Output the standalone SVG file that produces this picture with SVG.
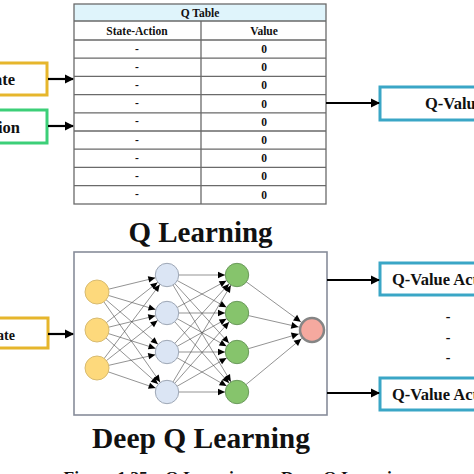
<svg xmlns="http://www.w3.org/2000/svg" width="474" height="474" viewBox="0 0 474 474">
<style>
.t{font-family:"Liberation Serif","Times New Roman",serif;font-weight:bold;fill:#111}
.cell{font-size:11.5px;text-anchor:middle}
.box{fill:#fff;stroke-width:3}
.grid{stroke:#6a6a6a;stroke-width:1.3;fill:none}
.arr{stroke:#000;stroke-width:2.2;fill:none;marker-end:url(#ah)}
.nn{stroke:#4a4a4a;stroke-width:0.6;fill:none;marker-end:url(#sh)}
.nno{stroke:#4a4a4a;stroke-width:0.6;fill:none;marker-end:url(#so)}
.yel{fill:#fdd97c;stroke:#d8bb70;stroke-width:1}
.blu{fill:#dbe5f4;stroke:#9ea7b5;stroke-width:1}
.grn{fill:#86c46c;stroke:#6b9a5c;stroke-width:1}
</style>
<defs>
<marker id="ah" markerUnits="userSpaceOnUse" markerWidth="10" markerHeight="10" refX="8" refY="0" orient="auto" overflow="visible"><path d="M0,-4.5 L9,0 L0,4.5 z" fill="#000"/></marker>
<marker id="sh" markerUnits="userSpaceOnUse" markerWidth="10" markerHeight="10" refX="19" refY="0" orient="auto" overflow="visible"><path d="M0,-3.2 L7,0 L0,3.2 z" fill="#000"/></marker>
<marker id="so" markerUnits="userSpaceOnUse" markerWidth="10" markerHeight="10" refX="21" refY="0" orient="auto" overflow="visible"><path d="M0,-3.5 L7,0 L0,3.5 z" fill="#000"/></marker>
</defs>
<rect width="474" height="474" fill="#fff"/>

<g id="qtable">
<rect x="74" y="4" width="252" height="17" fill="#dff4fb"/>
<rect x="74" y="4" width="252" height="200" class="grid"/>
<path class="grid" d="M74,21H326M74,40H326M74,58.2H326M74,76.4H326M74,94.6H326M74,112.8H326M74,131H326M74,149.2H326M74,167.4H326M74,185.6H326M201,21V204"/>
<text class="t cell" x="200" y="16.5">Q Table</text>
<text class="t cell" x="137" y="34.5">State-Action</text>
<text class="t cell" x="264" y="34.5">Value</text>
<g class="t cell" font-size="11">
<text x="137" y="52.5">-</text><text x="264" y="53">0</text>
<text x="137" y="70.7">-</text><text x="264" y="71.2">0</text>
<text x="137" y="88.9">-</text><text x="264" y="89.4">0</text>
<text x="137" y="107.1">-</text><text x="264" y="107.6">0</text>
<text x="137" y="125.3">-</text><text x="264" y="125.8">0</text>
<text x="137" y="143.5">-</text><text x="264" y="144">0</text>
<text x="137" y="161.7">-</text><text x="264" y="162.2">0</text>
<text x="137" y="179.9">-</text><text x="264" y="180.4">0</text>
<text x="137" y="198.1">-</text><text x="264" y="198.6">0</text>
</g>
</g>

<g id="state1"><rect class="box" x="-50" y="63" width="97" height="32" stroke="#e6b62c"/><text class="t" x="15" y="85" font-size="16.5" text-anchor="end">State</text></g>
<g id="action1"><rect class="box" x="-50" y="110" width="97" height="33" stroke="#3ccf78"/><text class="t" x="20" y="132.5" font-size="16.5" text-anchor="end">Action</text></g>
<g id="qvalue1"><rect class="box" x="380" y="87" width="130" height="33" stroke="#3aa6c6"/><text class="t" x="425" y="108.5" font-size="16.5">Q-Value</text></g>
<text class="t" x="200.5" y="242" font-size="29" text-anchor="middle">Q Learning</text>

<g id="state2"><rect class="box" x="-50" y="318" width="98" height="30" stroke="#e6b62c"/><text class="t" x="15" y="340" font-size="14" text-anchor="end">State</text></g>
<g id="qva1"><rect class="box" x="380" y="263" width="130" height="32" stroke="#3aa6c6"/><text class="t" x="392" y="285" font-size="16.5">Q-Value Action 1</text></g>
<g id="qvan"><rect class="box" x="380" y="378" width="130" height="32" stroke="#3aa6c6"/><text class="t" x="392" y="400" font-size="16.5">Q-Value Action N</text></g>
<g class="t" font-size="14" text-anchor="middle"><text x="448" y="321">-</text><text x="448" y="342">-</text><text x="448" y="362">-</text></g>

<g id="nnbox"><rect x="74" y="252" width="253" height="163" fill="#fff" stroke="#878d9a" stroke-width="1.6"/></g>

<g id="connectors">
<line class="arr" x1="48" y1="79" x2="73" y2="79"/>
<line class="arr" x1="48" y1="126" x2="73" y2="126"/>
<line class="arr" x1="326" y1="103" x2="379" y2="103"/>
<line class="arr" x1="48" y1="334" x2="73" y2="334"/>
<line class="arr" x1="327" y1="280" x2="379" y2="280"/>
<line class="arr" x1="327" y1="393" x2="379" y2="393"/>
<g>
<line class="nn" x1="97" y1="292" x2="167" y2="275"/><line class="nn" x1="97" y1="292" x2="167" y2="313"/><line class="nn" x1="97" y1="292" x2="167" y2="352"/><line class="nn" x1="97" y1="292" x2="167" y2="392"/>
<line class="nn" x1="97" y1="330" x2="167" y2="275"/><line class="nn" x1="97" y1="330" x2="167" y2="313"/><line class="nn" x1="97" y1="330" x2="167" y2="352"/><line class="nn" x1="97" y1="330" x2="167" y2="392"/>
<line class="nn" x1="97" y1="368" x2="167" y2="275"/><line class="nn" x1="97" y1="368" x2="167" y2="313"/><line class="nn" x1="97" y1="368" x2="167" y2="352"/><line class="nn" x1="97" y1="368" x2="167" y2="392"/>
<line class="nn" x1="167" y1="275" x2="237" y2="275"/><line class="nn" x1="167" y1="275" x2="237" y2="313"/><line class="nn" x1="167" y1="275" x2="237" y2="352"/><line class="nn" x1="167" y1="275" x2="237" y2="392"/>
<line class="nn" x1="167" y1="313" x2="237" y2="275"/><line class="nn" x1="167" y1="313" x2="237" y2="313"/><line class="nn" x1="167" y1="313" x2="237" y2="352"/><line class="nn" x1="167" y1="313" x2="237" y2="392"/>
<line class="nn" x1="167" y1="352" x2="237" y2="275"/><line class="nn" x1="167" y1="352" x2="237" y2="313"/><line class="nn" x1="167" y1="352" x2="237" y2="352"/><line class="nn" x1="167" y1="352" x2="237" y2="392"/>
<line class="nn" x1="167" y1="392" x2="237" y2="275"/><line class="nn" x1="167" y1="392" x2="237" y2="313"/><line class="nn" x1="167" y1="392" x2="237" y2="352"/><line class="nn" x1="167" y1="392" x2="237" y2="392"/>
<line class="nno" x1="237" y1="275" x2="312" y2="330"/><line class="nno" x1="237" y1="313" x2="312" y2="330"/><line class="nno" x1="237" y1="352" x2="312" y2="330"/><line class="nno" x1="237" y1="392" x2="312" y2="330"/>
</g>
</g>

<g id="input-layer">
<circle class="yel" cx="97" cy="292" r="12"/><circle class="yel" cx="97" cy="330" r="12"/><circle class="yel" cx="97" cy="368" r="12"/>
</g>
<g id="hidden-layer-1">
<circle class="blu" cx="167" cy="275" r="11.7"/><circle class="blu" cx="167" cy="313" r="11.7"/><circle class="blu" cx="167" cy="352" r="11.7"/><circle class="blu" cx="167" cy="392" r="11.7"/>
</g>
<g id="hidden-layer-2">
<circle class="grn" cx="237" cy="275" r="11.7"/><circle class="grn" cx="237" cy="313" r="11.7"/><circle class="grn" cx="237" cy="352" r="11.7"/><circle class="grn" cx="237" cy="392" r="11.7"/>
</g>
<g id="output-node"><circle cx="312" cy="330" r="12" fill="#f5a99f" stroke="#858585" stroke-width="2.5"/></g>

<text class="t" x="201" y="448" font-size="29.5" text-anchor="middle">Deep Q Learning</text>
<text class="t" x="237" y="483" font-size="17.5" text-anchor="middle">Figure 1.25 – Q Learning vs. Deep Q Learning</text>
</svg>
